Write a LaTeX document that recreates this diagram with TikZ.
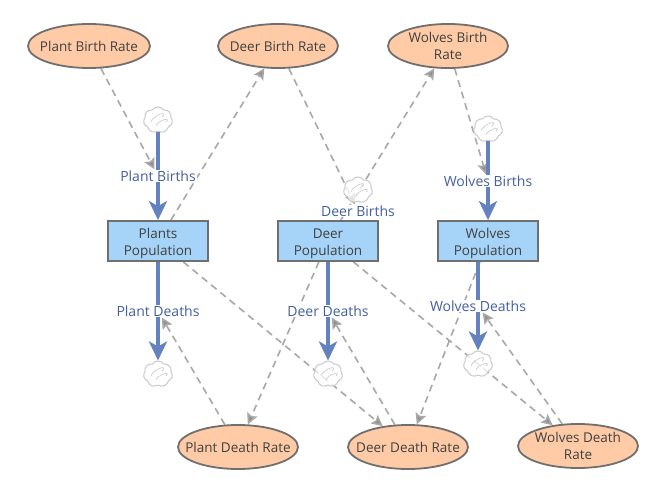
\documentclass[tikz,border=0pt]{standalone}
\usepackage{fontspec}
\setmainfont{Open Sans}
\usetikzlibrary{shapes.geometric,shapes.symbols,arrows.meta,backgrounds}

\definecolor{rateFill}{HTML}{FFCBA6}
\definecolor{stockFill}{HTML}{A6D3F8}
\definecolor{edgeGray}{HTML}{6F6F6F}
\definecolor{linkGray}{HTML}{A8A8A8}
\definecolor{flowBlue}{HTML}{6482BF}
\definecolor{labelBlue}{HTML}{44609F}
\definecolor{cloudGray}{HTML}{C9C9C9}

\newcommand{\stockText}[2]{\raisebox{-6pt}[0pt][0pt]{#1}\\\raisebox{-6pt}[0pt][0pt]{#2}}

\tikzset{
  rate_nd/.style={ellipse,minimum width=120pt,minimum height=44pt,inner xsep=-20pt,inner ysep=-6pt,fill=rateFill,draw=edgeGray,line width=1.8pt,align=center,text=black!75,font=\fontsize{13.5}{17}\selectfont},
  stock_nd/.style={rectangle,minimum width=100pt,minimum height=40pt,inner sep=0pt,fill=stockFill,draw=edgeGray,line width=1.8pt,align=center,text=black!75,font=\fontsize{13.5}{17}\selectfont},
  cloud_nd/.style={cloud,cloud puffs=7,cloud puff arc=110,aspect=1.1,minimum width=29pt,minimum height=26pt,inner sep=0pt,draw=cloudGray,line width=1pt,fill=white,fill opacity=.75},
  flow_lb/.style={inner sep=1pt,fill=white,text=labelBlue,font=\fontsize{14}{16}\selectfont},
}

\begin{document}
\begin{tikzpicture}[
  x=1pt,y=-1pt,
  link line/.style={draw=linkGray,line width=1.6pt,dash pattern=on 7pt off 5pt,-{Stealth[length=11pt,width=11pt,inset=2pt,fill=linkGray!85!black]}},
  flow line/.style={draw=flowBlue,line width=4pt,-{Stealth[length=19pt,width=18pt,inset=5pt]}},
  ]
  \useasboundingbox (0,0) rectangle (668,494);

  % rates
  \node[rate_nd,minimum width=122pt] (plantBirth) at (89,46) {Plant Birth Rate};
  \node[rate_nd] (deerBirth) at (278,46) {Deer Birth Rate};
  \node[rate_nd] (wolfBirth) at (448,46) {Wolves Birth\\Rate};
  \node[rate_nd] (plantDeath) at (238,447) {Plant Death Rate};
  \node[rate_nd] (deerDeath) at (408,447) {Deer Death Rate};
  \node[rate_nd] (wolfDeath) at (578,446) {Wolves Death\\Rate};

  % stocks
  \node[stock_nd] (plants) at (158,241) {\stockText{Plants}{Population}};
  \node[stock_nd] (deer) at (328,241) {\stockText{Deer}{Population}};
  \node[stock_nd] (wolves) at (488,241) {\stockText{Wolves}{Population}};

  % clouds
  \node[cloud_nd] (cloudA) at (158,120) {};
  \node[cloud_nd] (cloudB) at (358,190) {};
  \node[cloud_nd] (cloudC) at (488,129) {};
  \node[cloud_nd] (cloudD) at (158,374) {};
  \node[cloud_nd] (cloudE) at (328,374) {};
  \node[cloud_nd] (cloudF) at (478,364) {};
  \foreach \Cloud in {cloudA,cloudB,cloudC,cloudD,cloudE,cloudF}{
    \draw[cloudGray,line width=.6pt] (\Cloud.center) ++(-7,2) .. controls +(2,-7) and +(7,-7) .. ++(11,-5);
    \draw[cloudGray,line width=.6pt] (\Cloud.center) ++(-2,6) .. controls +(1,-5) and +(6,-6) .. ++(10,-4);
  }

  % flow labels
  \node[flow_lb] (plantBirths) at (158,176) {Plant Births};
  \node[flow_lb] (deerBirths) at (358,211) {Deer Births};
  \node[flow_lb] (wolfBirths) at (488,181) {Wolves Births};
  \node[flow_lb] (plantDeaths) at (158,311) {Plant Deaths};
  \node[flow_lb] (deerDeaths) at (328,311) {Deer Deaths};
  \node[flow_lb] (wolfDeaths) at (478,306) {Wolves Deaths};

  \begin{pgfonlayer}{background}
    \foreach \From/\To in {plantBirth/plantBirths,plants/deerBirth,deerBirth/deerBirths,deer/wolfBirth,
      wolfBirth/wolfBirths,plants/deerDeath,deer/plantDeath,plantDeath/plantDeaths,deerDeath/deerDeaths,
      wolves/deerDeath,deer/wolfDeath,wolfDeath/wolfDeaths}{
      \draw[link line] (\From) -- (\To);
    }
    \draw[flow line] (cloudA) -- (plants);
    \draw[flow line] (cloudC) -- (wolves.north -| cloudC);
    \draw[flow line] (plants.south) -- (cloudD);
    \draw[flow line] (deer.south) -- (cloudE);
    \draw[flow line] (wolves.south -| cloudF) -- (cloudF);
  \end{pgfonlayer}
\end{tikzpicture}
\end{document}
